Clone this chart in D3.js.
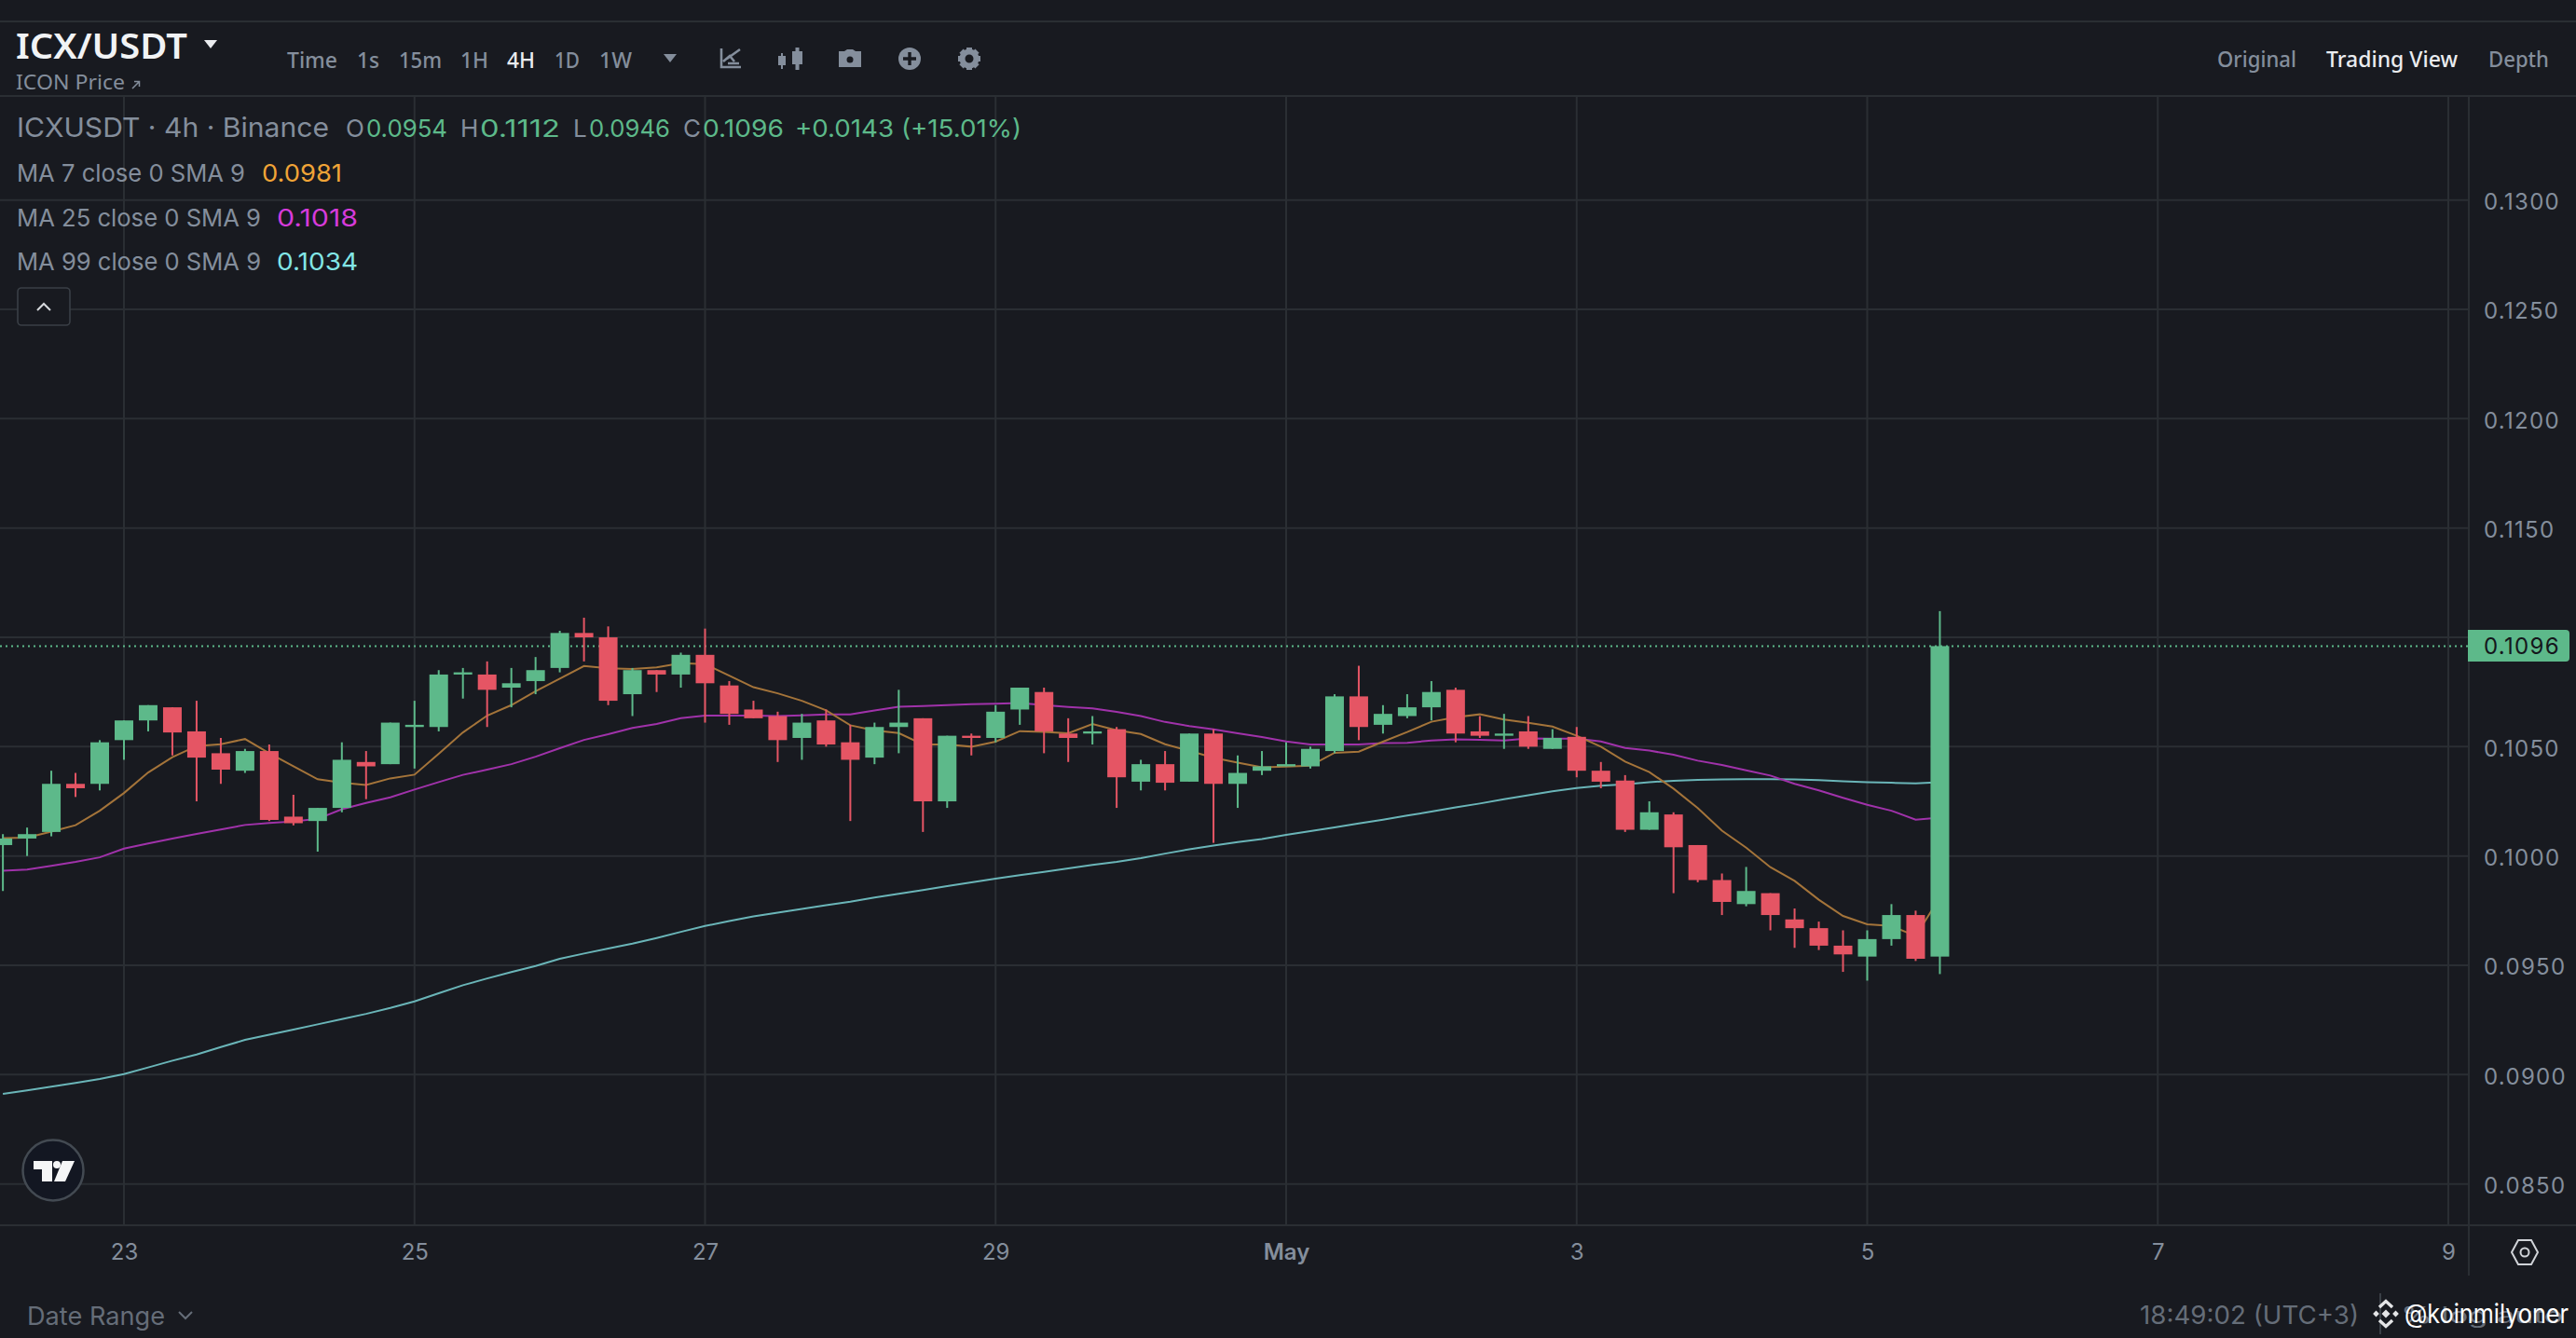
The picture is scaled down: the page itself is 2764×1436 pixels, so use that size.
<!DOCTYPE html>
<html><head><meta charset="utf-8">
<style>html,body{margin:0;padding:0;background:#181a20;overflow:hidden}svg{display:block}</style>
<script src="https://cdn.jsdelivr.net/npm/d3@7/dist/d3.min.js"></script>
</head><body><svg id="c" width="2764" height="1436"></svg>
<script>
// candle data: 4h candles, first candle index 0; day ticks fall every 12 candles
const opens=[.1005,.1008,.1011,.1033,.1033,.1053,.1062,.1068,.1057,.1047,.1039,.1048,.1018,.1016,.1022,.1043,.1042,.1059,.1059,.1083,.1083,.1077,.1080,.1086,.1102,.1100,.1074,.1085,.1083,.1092,.1078,.1067,.1064,.1054,.1062,.1052,.1045,.1059,.1063,.1025,.1055,.1054,.1067,.1075,.1056,.1056,.1058,.1034,.1042,.1034,.1056,.1033,.1039,.1041,.1041,.1048,.1073,.1060,.1064,.1068,.1076,.1057,.1055,.1057,.1049,.10545,.1039,.10345,.1012,.1019,.1005,.0989,.0978,.0983,.0971,.0967,.0959,.0954,.0962,.0973,.0954];
const highs=[.1010,.1013,.1039,.1038,.1053,.1062,.1069,.1068,.1071,.1054,.1049,.1051,.1028,.1022,.1052,.1048,.1061,.1071,.1085,.1086,.1089,.1086,.1091,.1103,.1109,.1105,.1086,.1085,.1093,.1104,.1080,.1071,.1066,.1065,.1067,.1060,.1061,.1076,.1063,.1055,.1056,.1069,.1077,.1077,.1063,.1064,.1059,.1044,.1048,.1056,.1058,.1046,.1048,.1052,.1050,.1074,.1087,.1069,.1074,.1080,.1077,.1064,.1065,.1064,.1058,.1059,.1043,.1037,.1025,.1020,.1005,.0992,.0995,.0983,.0976,.0970,.0966,.0966,.0978,.0975,.1112];
const lows=[.0984,.1000,.1009,.1027,.1030,.1044,.1057,.1046,.1025,.1033,.1038,.1016,.1014,.1002,.1020,.1026,.1042,.1040,.1057,.1072,.1059,.1068,.1074,.1084,.1089,.1069,.1064,.1075,.1077,.1061,.1060,.1063,.1043,.1044,.1050,.1016,.1042,.1047,.1011,.1022,.1046,.1052,.1060,.1047,.1043,.1051,.1022,.1030,.1030,.1034,.1006,.1022,.1037,.1041,.1040,.1047,.1053,.1056,.1063,.1062,.1052,.1054,.1049,.1049,.1049,.1036,.1031,.1011,.1012,.0983,.0988,.0973,.0977,.0966,.0958,.0957,.0947,.0943,.0959,.0952,.0946];
const closes=[.1008,.1010,.1033,.1031,.1052,.1062,.1069,.10565,.1045,.10395,.1048,.10165,.1015,.1022,.1044,.1041,.1061,.1060,.1083,.1084,.1076,.1079,.1085,.1102,.1100,.1071,.1085,.1083,.1092,.1079,.1065,.1063,.1053,.1061,.1051,.1044,.1059,.1061,.1025,.1055,.1054,.1066,.1077,.1057,.1054,.1057,.1036,.1042,.10335,.1056,.1033,.1038,.1041,.1042,.1049,.1073,.1059,.1065,.1068,.1075,.1056,.1055,.1056,.1050,.1054,.1039,.1034,.1012,.1020,.1004,.0989,.0979,.0984,.0973,.0967,.0959,.0955,.0962,.0973,.0953,.1096];
const ma7=[.10082,.10084,.10112,.10141,.10207,.10288,.10382,.10452,.10503,.10511,.10535,.10470,.10410,.10351,.10335,.10325,.10355,.10372,.10467,.10565,.10642,.10690,.10754,.10811,.10869,.10858,.10855,.10863,.10882,.10878,.10825,.10772,.10744,.10710,.10666,.10598,.10574,.10562,.10510,.10510,.10500,.10523,.10571,.10568,.10561,.10604,.10575,.10558,.10511,.10481,.10449,.10427,.10406,.10409,.10413,.10472,.10477,.10523,.10567,.10614,.10635,.10648,.10624,.10609,.10592,.10550,.10500,.10432,.10384,.10308,.10219,.10116,.10038,.09949,.09886,.09800,.09726,.09688,.09680,.09634,.09810];
const ma25=[.09933,.09938,.09955,.09973,.09994,.10034,.10057,.10080,.10101,.10121,.10142,.10151,.10158,.10170,.10214,.10243,.10268,.10304,.10338,.10371,.10395,.10420,.10454,.10493,.10531,.10557,.10586,.10604,.10630,.10642,.10642,.10642,.10640,.10643,.10648,.10648,.10666,.10683,.10686,.10690,.10694,.10696,.10700,.10690,.10682,.10675,.10659,.10640,.10613,.10594,.10579,.10561,.10544,.10524,.10510,.10510,.10510,.10516,.10518,.10528,.10533,.10531,.10528,.10538,.10537,.10537,.10524,.10494,.10482,.10463,.10436,.10416,.10392,.10368,.10330,.10300,.10266,.10234,.10207,.10166,.10176];
const ma99=[.08912,.08928,.08945,.08962,.08980,.09003,.09033,.09064,.09092,.09126,.09159,.09183,.09206,.09230,.09254,.09278,.09305,.09335,.09372,.09409,.09440,.09469,.09497,.09530,.09554,.09577,.09599,.09625,.09653,.09680,.09703,.09724,.09741,.09758,.09775,.09791,.09810,.09827,.09844,.09862,.09879,.09896,.09912,.09927,.09943,.09959,.09973,.09990,.10011,.10031,.10048,.10064,.10078,.10097,.10114,.10131,.10149,.10166,.10185,.10203,.10222,.10240,.10260,.10278,.10296,.10311,.10321,.10328,.10338,.10344,.10348,.10350,.10351,.10351,.10350,.10347,.10342,.10338,.10335,.10332,.10338];
const priceTicks=[.085,.09,.095,.1,.105,.11,.115,.12,.125,.13];
const dayLabels=["23","25","27","29","May","3","5","7","9"];
const dayTickIndex=[5,17,29,41,53,65,77,89,101];
const lastPrice=0.1096;
const intervals=["Time","1s","15m","1H","4H","1D","1W"];
const intervalX=[308,383,428,494,544,595,643];
const intervalW=[54,24,46,30,30,27,35];

const BG="#181a20",GRID="#2a2e33",UP="#5db98a",DOWN="#e55564",MUTED="#848e9c",DIM="#656d78";
const svg=d3.select("#c");
const x=d3.scaleLinear().domain([5,101]).range([133,2627]);
const y=d3.scaleLinear().domain([.085,.13]).range([1270.7,214.7]);
const PR=2649,PT=104,PB=1315;
svg.append("rect").attr("width",2764).attr("height",1436).attr("fill",BG);

function t(str,px,py,size,color,o={}){
  const e=svg.append("text").attr("x",px).attr("y",py).attr("font-size",size).attr("fill",color)
    .attr("font-family",o.font||"Inter").attr("font-weight",o.weight||400).text(str);
  if(o.anchor)e.attr("text-anchor",o.anchor);
  if(o.w){e.attr("textLength",o.w).attr("lengthAdjust","spacingAndGlyphs");}
  return e;
}
// frame + grid
const grid=svg.append("g").attr("stroke",GRID).attr("stroke-width",2);
grid.selectAll(".h").data(priceTicks).join("line").attr("x1",0).attr("x2",PR).attr("y1",d=>y(d)).attr("y2",d=>y(d));
grid.selectAll(".v").data(dayTickIndex).join("line").attr("y1",PT).attr("y2",PB).attr("x1",d=>x(d)).attr("x2",d=>x(d));
[[0,23,2764,23],[0,103,2764,103],[0,PB,2764,PB],[PR,PT,PR,1369]].forEach(l=>
  grid.append("line").attr("x1",l[0]).attr("y1",l[1]).attr("x2",l[2]).attr("y2",l[3]));

// moving averages beneath the candles
const line=d3.line().x((d,i)=>x(i)).y(d=>y(d));
[[ma99,"#6ab5b8"],[ma25,"#a032aa"],[ma7,"#a4743a"]].forEach(([s,c])=>
  svg.append("path").attr("d",line(s)).attr("fill","none").attr("stroke",c).attr("stroke-width",2));

// last price dotted line
svg.append("line").attr("x1",0).attr("x2",PR).attr("y1",y(lastPrice)).attr("y2",y(lastPrice))
  .attr("stroke",UP).attr("stroke-width",2).attr("stroke-dasharray","2 4");

// candles
const idx=d3.range(opens.length);
const col=i=>closes[i]>=opens[i]?UP:DOWN;
svg.append("g").selectAll("rect").data(idx).join("rect")
  .attr("x",i=>x(i)-1).attr("width",2).attr("y",i=>y(highs[i])).attr("height",i=>y(lows[i])-y(highs[i])).attr("fill",col);
svg.append("g").selectAll("rect").data(idx).join("rect")
  .attr("x",i=>x(i)-10).attr("width",20).attr("y",i=>y(Math.max(opens[i],closes[i])))
  .attr("height",i=>Math.max(2,Math.abs(y(opens[i])-y(closes[i])))).attr("fill",col);

// axes: the 0.1100 label sits behind the last-price tag, so it stays blank
const yAxis=d3.axisRight(y).tickValues(priceTicks).tickFormat(d=>Math.abs(d-.11)<1e-6?"":d3.format(".4f")(d)).tickSize(0).tickPadding(16);
const ya=svg.append("g").attr("transform",`translate(${PR},2)`).call(yAxis);
ya.select(".domain").remove();
ya.selectAll("text").attr("font-family","Inter").attr("font-size",24).attr("letter-spacing",1.3).attr("fill",MUTED);
const xAxis=d3.axisBottom(x).tickValues(dayTickIndex).tickFormat((d,i)=>dayLabels[i]).tickSize(0).tickPadding(20);
const xa=svg.append("g").attr("transform",`translate(0,${PB})`).call(xAxis);
xa.select(".domain").remove();
xa.selectAll("text").attr("font-family","Inter").attr("font-size",24).attr("fill",MUTED)
  .attr("font-weight",(d,i)=>dayLabels[i]==="May"?600:400);

// last price tag
svg.append("path").attr("d","M2648 676H2753a4 4 0 0 1 4 4V706a4 4 0 0 1-4 4H2648Z").attr("fill",UP);
t(lastPrice.toFixed(4),2665,702,24,"#14161b").attr("letter-spacing",1.3);

// header
t("ICX/USDT",17,63,38,"#f1f3f5",{weight:600,font:"Noto Sans",w:184});
svg.append("path").attr("d","M219 43H233L226 52Z").attr("fill","#eaecef");
t("ICON Price",17,96,21,MUTED,{font:"Noto Sans",w:117});
svg.append("path").attr("d","M142 95L149 88M144 87.5H149.5V93").attr("fill","none").attr("stroke",MUTED).attr("stroke-width",1.5);
intervals.forEach((s,i)=>t(s,intervalX[i],73,23,s==="4H"?"#eaecef":MUTED,{font:"Noto Sans",weight:500,w:intervalW[i]}));
svg.append("path").attr("d","M712 58H726L719 67Z").attr("fill",MUTED);
const icon=svg.append("g").attr("fill","#848e9c");
// indicator icon
svg.append("path").attr("d","M774 52V72H795M776 66L783 60L788 66M780 63L794 53M781 68H793").attr("fill","none").attr("stroke",MUTED).attr("stroke-width",2.6);
// candle icon
icon.append("rect").attr("x",835).attr("y",60).attr("width",8).attr("height",10);
icon.append("rect").attr("x",838).attr("y",57).attr("width",2).attr("height",17);
icon.append("rect").attr("x",850).attr("y",55).attr("width",11).attr("height",14);
icon.append("rect").attr("x",853.5).attr("y",51).attr("width",4).attr("height",24);
// camera
icon.append("path").attr("d","M900 55H906L909 53H915L918 55H924V72H900Z");
svg.append("circle").attr("cx",912).attr("cy",64).attr("r",3.5).attr("fill",BG);
// plus
icon.append("circle").attr("cx",976).attr("cy",63).attr("r",12);
svg.append("path").attr("d","M976 56V70M969 63H983").attr("stroke",BG).attr("stroke-width",3.4);
// gear
svg.append("circle").attr("cx",1040).attr("cy",63).attr("r",7.5).attr("fill","none").attr("stroke",MUTED).attr("stroke-width",6);
icon.selectAll("rect.g").data(d3.range(8)).join("rect").attr("x",1037).attr("y",51).attr("width",6).attr("height",5)
  .attr("transform",d=>`rotate(${d*45} 1040 63)`);
t("Original",2379,72,24,MUTED,{font:"Noto Sans",weight:500,w:85});
t("Trading View",2496,72,24,"#eaecef",{font:"Noto Sans",weight:500,w:141});
t("Depth",2670,72,24,MUTED,{font:"Noto Sans",weight:500,w:65});

// legend
t("ICXUSDT · 4h · Binance",18,147,29,MUTED,{w:335});
[["O",371],["H",494],["L",615],["C",733]].forEach(d=>t(d[0],d[1],147,26,MUTED));
[["0.0954",393,87],["0.1112",515,86],["0.0946",632,87],["0.1096",754,87],["+0.0143 (+15.01%)",853,243]].forEach(d=>t(d[0],d[1],147,26,UP,{w:d[2]}));
t("MA 7 close 0 SMA 9",18,195,26,MUTED,{w:245}); t("0.0981",281,195,26,"#f0a437",{w:86});
t("MA 25 close 0 SMA 9",18,243,26,MUTED,{w:262}); t("0.1018",297,243,26,"#d63bdb",{w:87});
t("MA 99 close 0 SMA 9",18,290,26,MUTED,{w:262}); t("0.1034",297,290,26,"#82e6e6",{w:87});
svg.append("rect").attr("x",19).attr("y",309).attr("width",56).attr("height",40).attr("rx",4).attr("fill",BG).attr("stroke","#3a3f46").attr("stroke-width",1.6);
svg.append("path").attr("d","M40 333L47 326L54 333").attr("fill","none").attr("stroke","#d5d8dc").attr("stroke-width",2);

// tradingview badge
svg.append("circle").attr("cx",57).attr("cy",1256).attr("r",32.5).attr("fill","#131722").attr("stroke","#434a52").attr("stroke-width",2.5);
svg.append("path").attr("d","M36 1246H56V1268H45V1255H36Z").attr("fill","#f5f6f7");
svg.append("circle").attr("cx",61).attr("cy",1250).attr("r",4).attr("fill","#f5f6f7");
svg.append("path").attr("d","M67 1246H80L70 1268H58Z").attr("fill","#f5f6f7");

// settings hex
svg.append("path").attr("d","M2695 1344L2702 1331H2716L2723 1344L2716 1357H2702Z").attr("fill","none").attr("stroke","#d0d3d8").attr("stroke-width",2);
svg.append("circle").attr("cx",2709).attr("cy",1344).attr("r",4.5).attr("fill","none").attr("stroke","#d0d3d8").attr("stroke-width",2);

// footer
t("Date Range",29,1422,27,DIM,{w:148});
svg.append("path").attr("d","M192 1408L199 1415L206 1408").attr("fill","none").attr("stroke",DIM).attr("stroke-width",2);
t("18:49:02 (UTC+3)",2296,1421,27,DIM,{w:235});
svg.append("line").attr("x1",2554).attr("x2",2554).attr("y1",1388).attr("y2",1432).attr("stroke","#3a3f46").attr("stroke-width",2);
t("% log auto",2576,1420,24,DIM,{w:174});
// exchange mark
const wm=svg.append("g").attr("fill","none").attr("stroke","#e4e5e7").attr("stroke-width",3.4);
wm.append("path").attr("d","M2553 1403L2560 1396.5L2567 1403");
wm.append("path").attr("d","M2553 1417L2560 1423.5L2567 1417");
const wd=svg.append("g").attr("fill","#e4e5e7");
[[2560,1410,4.5],[2549.5,1410,3.4],[2570.5,1410,3.4]].forEach(d=>
  wd.append("path").attr("d",`M${d[0]} ${d[1]-d[2]}L${d[0]+d[2]} ${d[1]}L${d[0]} ${d[1]+d[2]}L${d[0]-d[2]} ${d[1]}Z`));
t("@koinmilyoner",2580,1420,28,"#ffffff",{w:176});
</script></body></html>
